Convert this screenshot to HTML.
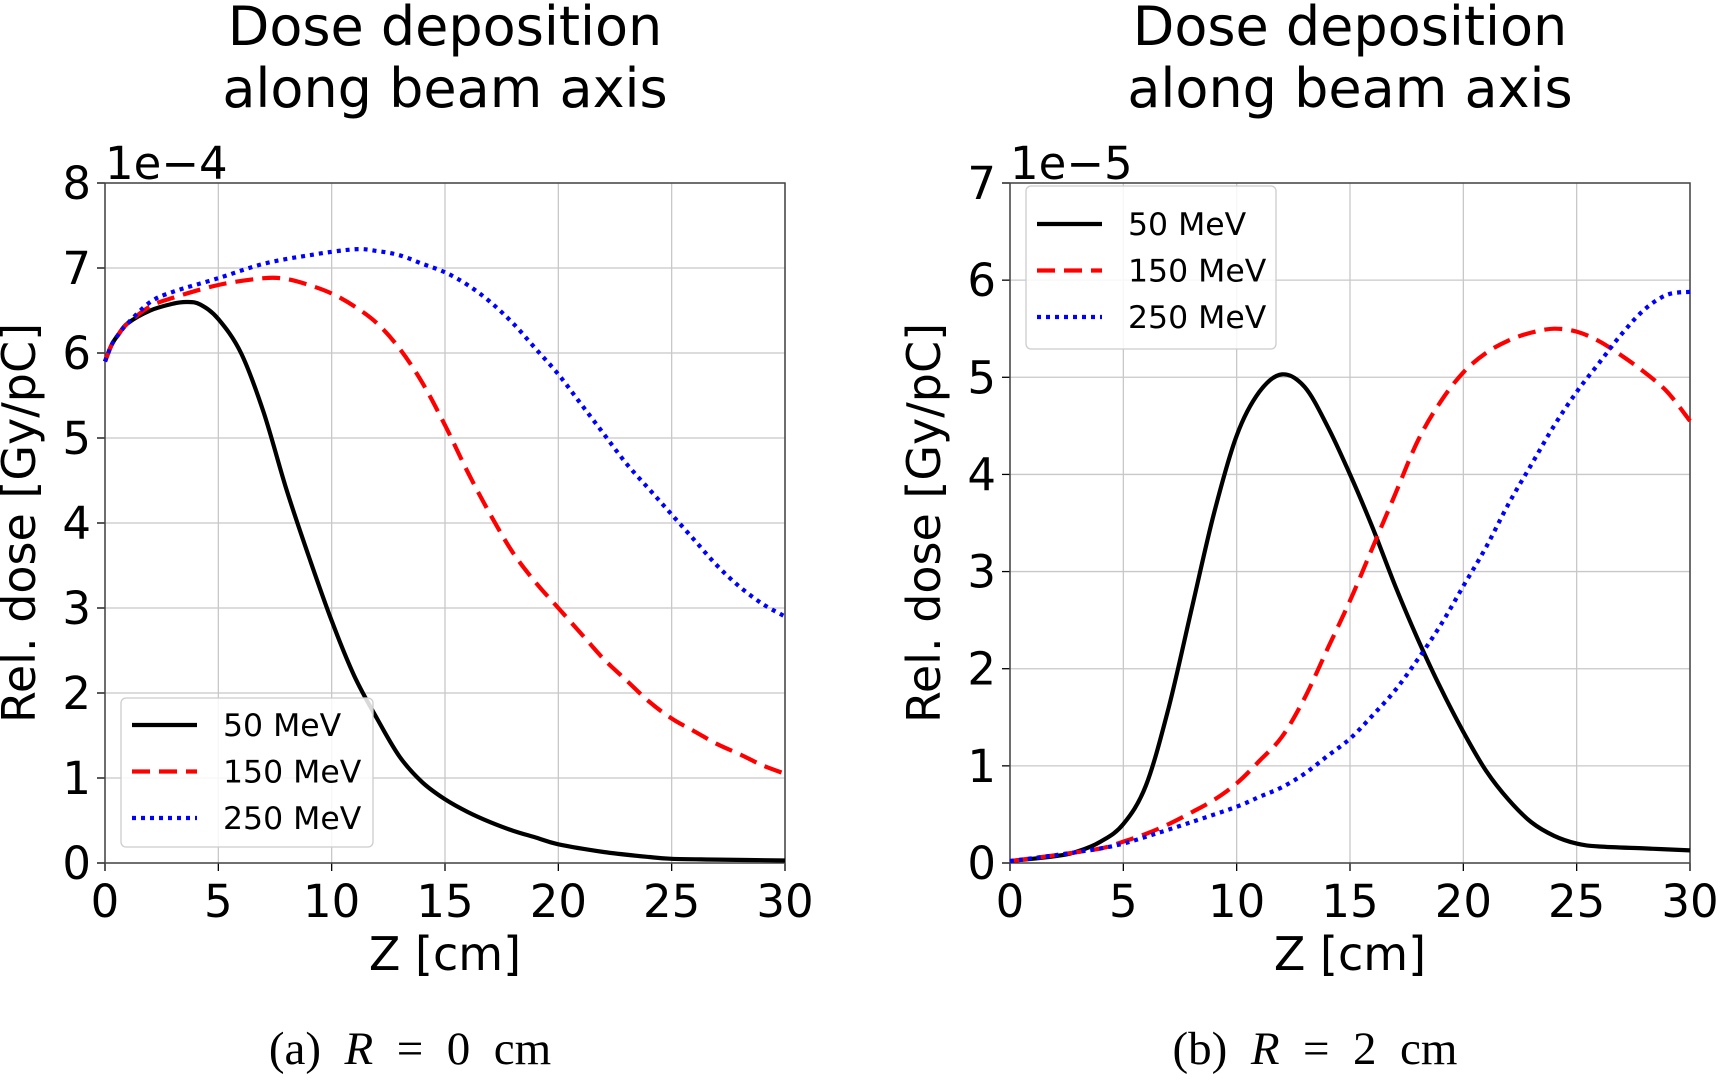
<!DOCTYPE html>
<html><head><meta charset="utf-8"><style>
html,body{margin:0;padding:0;background:#fff}
svg{display:block}
text{font-family:"DejaVu Sans","Liberation Sans",sans-serif;fill:#000}
.serif{font-family:"Liberation Serif","DejaVu Serif",serif}
</style></head><body>
<svg id="s" width="1720" height="1081" viewBox="0 0 1720 1081" xmlns="http://www.w3.org/2000/svg"></svg>
<script>
const S=document.getElementById('s');let h='';
function catmull(pts){let d='M'+pts[0][0].toFixed(1)+','+pts[0][1].toFixed(1);
for(let i=0;i<pts.length-1;i++){const p0=pts[i-1]||pts[i],p1=pts[i],p2=pts[i+1],p3=pts[i+2]||p2;
const c1=[p1[0]+(p2[0]-p0[0])/6,p1[1]+(p2[1]-p0[1])/6],c2=[p2[0]-(p3[0]-p1[0])/6,p2[1]-(p3[1]-p1[1])/6];
d+=' C'+c1.map(v=>v.toFixed(1))+' '+c2.map(v=>v.toFixed(1))+' '+p2[0].toFixed(1)+','+p2[1].toFixed(1);}return d;}
const styles=[{c:'#000',da:''},{c:'#ff0000',da:'18,9'},{c:'#0000ff',da:'4,5'}];
function plot(x0,ymax,ser,exp,legend,cap){
 const x1=x0+680,y0=183,y1=863,sx=680/30,sy=680/ymax;
 for(let i=0;i<=6;i++){const x=x0+i*5*sx;h+=`<line x1="${x}" y1="${y0}" x2="${x}" y2="${y1}" stroke="#c8c8c8" stroke-width="1.3"/>`;
  h+=`<line x1="${x}" y1="${y1}" x2="${x}" y2="${y1+8}" stroke="#000" stroke-width="1.3"/>`;
  h+=`<text x="${x}" y="${y1+54}" font-size="45" text-anchor="middle">${i*5}</text>`;}
 for(let j=0;j<=ymax;j++){const y=y1-j*sy;h+=`<line x1="${x0}" y1="${y}" x2="${x1}" y2="${y}" stroke="#c8c8c8" stroke-width="1.3"/>`;
  h+=`<line x1="${x0-8}" y1="${y}" x2="${x0}" y2="${y}" stroke="#000" stroke-width="1.3"/>`;
  h+=`<text x="${x0-14}" y="${y+16}" font-size="45" text-anchor="end">${j}</text>`;}
 h+=`<rect x="${x0}" y="${y0}" width="680" height="680" fill="none" stroke="#444" stroke-width="1.5"/>`;
 ser.forEach((s,k)=>{const pts=s.map(p=>[x0+p[0]*sx,y1-p[1]*sy]);
  h+=`<path d="${catmull(pts)}" fill="none" stroke="${styles[k].c}" stroke-width="4.2" stroke-dasharray="${styles[k].da}"/>`;});
 h+=`<text x="${x0}" y="${y0-4}" font-size="45">${exp}</text>`;
 const [lx,ly,lw,lhh,ey]=legend;
 h+=`<rect x="${lx}" y="${ly}" width="${lw}" height="${lhh}" rx="5" fill="#fff" fill-opacity="0.85" stroke="#ccc" stroke-width="1.3"/>`;
 ['50 MeV','150 MeV','250 MeV'].forEach((t,k)=>{const y=ey+k*46.5;
  h+=`<line x1="${lx+11}" y1="${y}" x2="${lx+76}" y2="${y}" stroke="${styles[k].c}" stroke-width="4.2" stroke-dasharray="${styles[k].da}"/>`;
  h+=`<text x="${lx+102}" y="${y+11}" font-size="31.5">${t}</text>`;});
 const cx=x0+340;
 h+=`<text x="${cx}" y="45" font-size="54" text-anchor="middle">Dose deposition</text>`;
 h+=`<text x="${cx}" y="107" font-size="54" text-anchor="middle">along beam axis</text>`;
 h+=`<text x="${cx}" y="970" font-size="46" text-anchor="middle">Z [cm]</text>`;
 h+=`<text transform="translate(${x0-70},${(y0+y1)/2}) rotate(-90)" font-size="46" text-anchor="middle">Rel. dose [Gy/pC]</text>`;
 h+=`<text class="serif" x="${cx-35}" y="1064" font-size="47" text-anchor="middle" xml:space="preserve">${cap}</text>`;
}
const L=[
[[0,5.9],[0.3,6.1],[0.6,6.22],[1,6.35],[2,6.5],[3,6.58],[3.6,6.6],[4.2,6.57],[5,6.4],[6,6.0],[7,5.3],[8,4.4],[9,3.6],[10,2.85],[11,2.2],[12,1.7],[13,1.25],[14,0.95],[15,0.75],[16,0.6],[17,0.48],[18,0.38],[19,0.3],[20,0.22],[22,0.13],[24,0.07],[25,0.05],[27,0.04],[30,0.03]],
[[0,5.9],[0.3,6.1],[0.6,6.22],[1,6.35],[2,6.55],[3,6.65],[5,6.8],[7,6.88],[8,6.87],[9,6.8],[10,6.7],[11,6.55],[12,6.35],[13,6.05],[14,5.65],[15,5.15],[16,4.6],[17,4.1],[18,3.65],[19,3.3],[20,3.0],[21,2.7],[22,2.4],[23,2.15],[24,1.9],[25,1.7],[26,1.55],[27,1.4],[28,1.28],[29,1.15],[30,1.05]],
[[0,5.9],[0.3,6.1],[0.6,6.22],[1,6.35],[2,6.6],[3,6.72],[5,6.88],[7,7.05],[9,7.15],[11,7.22],[12,7.2],[13,7.15],[14,7.05],[15,6.95],[16,6.8],[17,6.6],[18,6.35],[19,6.05],[20,5.75],[21,5.4],[22,5.05],[23,4.7],[24,4.4],[25,4.1],[26,3.8],[27,3.5],[28,3.25],[29,3.05],[30,2.9]]];
const R=[
[[0,0.02],[2,0.07],[3,0.12],[4,0.22],[5,0.4],[6,0.8],[7,1.6],[8,2.6],[9,3.6],[10,4.4],[11,4.85],[12,5.03],[13,4.9],[14,4.5],[15,4.0],[16,3.45],[17,2.85],[18,2.3],[19,1.8],[20,1.35],[21,0.95],[22,0.65],[23,0.42],[24,0.28],[25,0.2],[26,0.17],[28,0.15],[30,0.13]],
[[0,0.02],[2,0.08],[4,0.15],[5,0.22],[6,0.3],[7,0.4],[8,0.52],[9,0.65],[10,0.82],[11,1.05],[12,1.3],[13,1.7],[14,2.2],[15,2.7],[16,3.25],[17,3.8],[18,4.35],[19,4.75],[20,5.05],[21,5.25],[22,5.38],[23,5.46],[24,5.5],[25,5.47],[26,5.37],[27,5.22],[28,5.05],[29,4.85],[30,4.55]],
[[0,0.02],[2,0.08],[4,0.15],[5,0.2],[6,0.27],[8,0.42],[10,0.58],[11,0.68],[12,0.78],[13,0.92],[14,1.1],[15,1.28],[16,1.52],[17,1.78],[18,2.1],[19,2.45],[20,2.85],[21,3.25],[22,3.7],[23,4.1],[24,4.5],[25,4.85],[26,5.15],[27,5.45],[28,5.7],[29,5.85],[30,5.88]]];
plot(105,8,L,'1e−4',[121,698,252,149,725],'(a)  <tspan font-style="italic">R</tspan>  =  0  cm');
plot(1010,7,R,'1e−5',[1026,186,250,163,224],'(b)  <tspan font-style="italic">R</tspan>  =  2  cm');
S.innerHTML=h;
</script>
</body></html>
